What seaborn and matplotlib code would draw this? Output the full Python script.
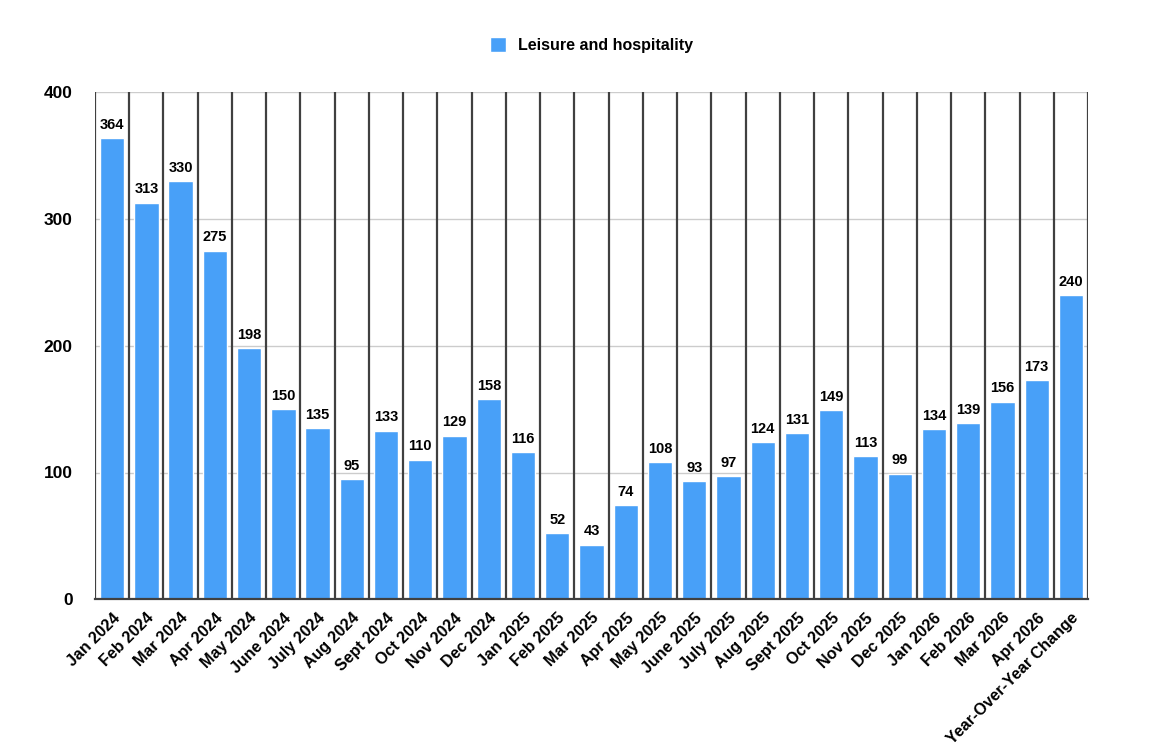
import pandas as pd
import matplotlib.pyplot as plt
import seaborn as sns

months = ['Jan 2024', 'Feb 2024', 'Mar 2024', 'Apr 2024', 'May 2024', 'June 2024',
          'July 2024', 'Aug 2024', 'Sept 2024', 'Oct 2024', 'Nov 2024', 'Dec 2024',
          'Jan 2025', 'Feb 2025', 'Mar 2025', 'Apr 2025', 'May 2025', 'June 2025',
          'July 2025', 'Aug 2025', 'Sept 2025', 'Oct 2025', 'Nov 2025', 'Dec 2025',
          'Jan 2026', 'Feb 2026', 'Mar 2026', 'Apr 2026', 'Year-Over-Year Change']
values = [364, 313, 330, 275, 198, 150, 135, 95, 133, 110, 129, 158,
          116, 52, 43, 74, 108, 93, 97, 124, 131, 149, 113, 99,
          134, 139, 156, 173, 240]
series_name = 'Leisure and hospitality'

df = pd.DataFrame({'month': months, 'value': values})

sns.set_style('white')
plt.rcParams['font.family'] = ['Liberation Sans', 'DejaVu Sans']
plt.rcParams['text.color'] = 'black'
plt.rcParams['xtick.color'] = 'black'
plt.rcParams['ytick.color'] = 'black'

fig = plt.figure(figsize=(11.7, 7.5), dpi=100)
ax = fig.add_axes([0.0812, 0.201, 0.8488, 0.676])

blue = '#48a0f8'
sns.barplot(data=df, x='month', y='value', color=blue, width=0.71,
            saturation=1, ax=ax, label=series_name, zorder=3)

n = len(months)
ax.set_xlim(-0.5, n - 0.5)
ax.set_ylim(0, 400)
ax.set_yticks([0, 100, 200, 300, 400])

# horizontal grid + vertical separators between categories
for y in [100, 200, 300, 400]:
    ax.axhline(y, color='#cccccc', lw=1, zorder=1)
for i in range(n + 1):
    ax.axvline(i - 0.5, color='#404040', lw=1.6, zorder=2)

for s in ['top', 'right', 'left']:
    ax.spines[s].set_visible(False)
ax.spines['bottom'].set_color('#404040')
ax.spines['bottom'].set_linewidth(1.6)
ax.spines['bottom'].set_zorder(4)

for i, v in enumerate(values):
    ax.text(i, v + 5, str(v), ha='center', va='bottom', fontsize=10.5,
            fontweight='bold', color='black')

ax.set_xlabel('')
ax.set_ylabel('')
ax.tick_params(axis='both', length=0)
ax.tick_params(axis='x', pad=8)
ax.tick_params(axis='y', pad=16)
ax.set_xticks(range(n))
ax.set_xticklabels(months, rotation=45, ha='right', rotation_mode='anchor',
                   fontsize=11.5, fontweight='bold')
for lab in ax.get_yticklabels():
    lab.set_fontweight('bold')
    lab.set_fontsize(12.5)

ax.legend(loc='center', bbox_to_anchor=(0.5, 1.093), frameon=False,
          prop={'weight': 'bold', 'size': 11.5}, handlelength=1, handleheight=1,
          handletextpad=0.8)

plt.savefig('out.png', dpi=100)
